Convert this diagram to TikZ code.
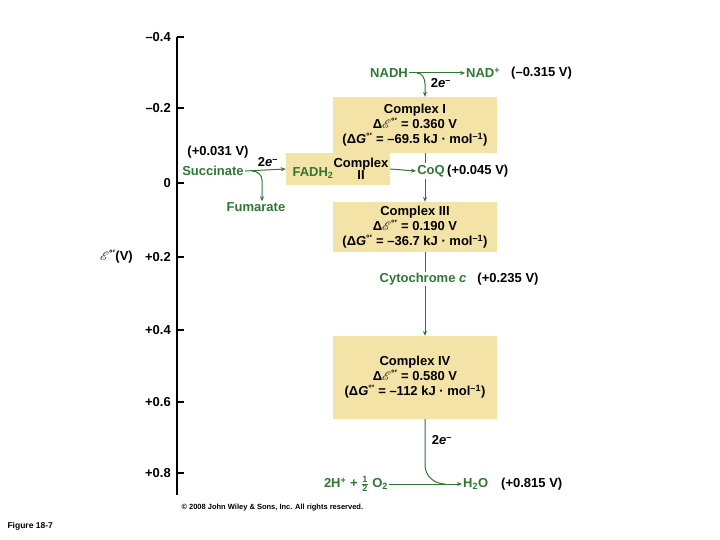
\documentclass[tikz,border=0pt]{standalone}
\usepackage{amsmath,amssymb}
\usepackage{mathrsfs}
\usepackage{fontspec}
\setmainfont{Liberation Sans}
\usetikzlibrary{arrows.meta}
\definecolor{gr}{RGB}{46,120,52}
\definecolor{bx}{RGB}{243,227,166}
\tikzset{
 lab/.style={font=\bfseries\fontsize{13}{15}\selectfont, inner sep=1pt},
 glab/.style={lab, text=gr},
 cbox/.style={fill=bx, draw=none, align=center, font=\bfseries\fontsize{13}{15}\selectfont},
 ln/.style={gr, line width=1pt},
 ar/.style={ln, -{Stealth[length=5pt,width=4pt]}},
}
\newcommand{\sE}{$\mathscr{E}$\textsuperscript{°′}}
\newcommand{\dE}{Δ\sE}
\newcommand{\dG}{Δ\textit{G}\textsuperscript{°′}}
\newcommand{\ee}{2\textit{e}\textsuperscript{–}}
\begin{document}
\begin{tikzpicture}[x=1pt,y=-1pt]
\useasboundingbox (0,0) rectangle (720,540);
% axis
\draw[line width=1.5pt] (177,37) -- (177,495);
\foreach \y/\t in {37/{–0.4},108/{–0.2},183/0,257/{+0.2},330/{+0.4},402/{+0.6},473/{+0.8}}
 {\draw[line width=1.5pt] (177,\y) -- (184,\y); \node[lab,anchor=east] at (172,\y) {\t};}
\node[lab,anchor=east] (axl) at (134,257) {\sE(V)};
% boxes
\node[cbox, minimum width=164pt, minimum height=56pt] (c1) at (415,125) {Complex I\\ \dE{} = 0.360 V\\ (\dG{} = –69.5 kJ · mol\textsuperscript{–1})};
\node[cbox, minimum width=164pt, minimum height=50pt] (c3) at (415,227) {Complex III\\ \dE{} = 0.190 V\\ (\dG{} = –36.7 kJ · mol\textsuperscript{–1})};
\node[cbox, minimum width=164pt, minimum height=83pt] (c4) at (415,377.5) {Complex IV\\ \dE{} = 0.580 V\\ (\dG{} = –112 kJ · mol\textsuperscript{–1})};
\node[cbox, minimum width=104pt, minimum height=32pt] (c2) at (338,169) {};
\node[cbox, fill=none, font=\bfseries\fontsize{13}{12}\selectfont] (c2t) at (361,169) {Complex\\II};
\node[glab] (fad) at (313,173) {FADH\textsubscript{2}};
% texts
\node[glab] (nadh) at (389,73) {NADH};
\node[glab,anchor=west] (nad) at (465,73) {NAD\textsuperscript{+}};
\node[lab,anchor=west] (v1) at (510,73) {(–0.315 V)};
\node[lab] (e1) at (441,83) {\ee};
\node[glab] (coq) at (431,171) {CoQ};
\node[lab,anchor=west] (v2) at (446,171) {(+0.045 V)};
\node[glab] (suc) at (213,171) {Succinate};
\node[lab] (v3) at (218,152) {(+0.031 V)};
\node[lab] (e2) at (268,162) {\ee};
\node[glab] (fum) at (256,207) {Fumarate};
\node[glab] (cyt) at (423,279) {Cytochrome \textit{c}};
\node[lab] (v4) at (508,279) {(+0.235 V)};
\node[lab] (e3) at (442,440) {\ee};
\node[glab] (o2) at (356,484) {2H\textsuperscript{+} + $\mathbf{\frac{1}{2}}$ O\textsubscript{2}};
\node[glab,anchor=west] (h2o) at (462,484) {H\textsubscript{2}O};
\node[lab,anchor=west] (v5) at (500,484) {(+0.815 V)};
\node[font=\bfseries\fontsize{7.5}{8}\selectfont,anchor=west] (cp) at (178,508) {© 2008 John Wiley \& Sons, Inc. All rights reserved.};
\node[font=\bfseries\fontsize{8.5}{9}\selectfont,anchor=west] (fig) at (4,526) {Figure 18-7};
% connectors
\coordinate (a2) at (417,73);
\draw[ar] (nadh.east) -- (nad.west);
\draw[ar] (a2) to[out=0,in=90] (425,84) -- (c1.north -| 425,0);
\draw[ln] (c1.south -| 425,0) -- (425,163);
\draw[ar] (c2.east) -- (coq.west);
\draw[ar] (425,179) -- (c3.north -| 425,0);
\draw[ln] (c3.south -| 425,0) -- (cyt.north -| 425,0);
\draw[ar] (cyt.south -| 425,0) -- (c4.north -| 425,0);
\draw[ar] (suc.east) -- (c2.west);
\draw[ar] (252,171) to[out=0,in=90] (262,180) -- (fum.north -| 262,0);
\draw[ar] (o2.east) -- (h2o.west);
\draw[ln] (c4.south -| 425,0) -- (425,465) to[out=-90,in=180] (445,484);
\end{tikzpicture}
\end{document}
